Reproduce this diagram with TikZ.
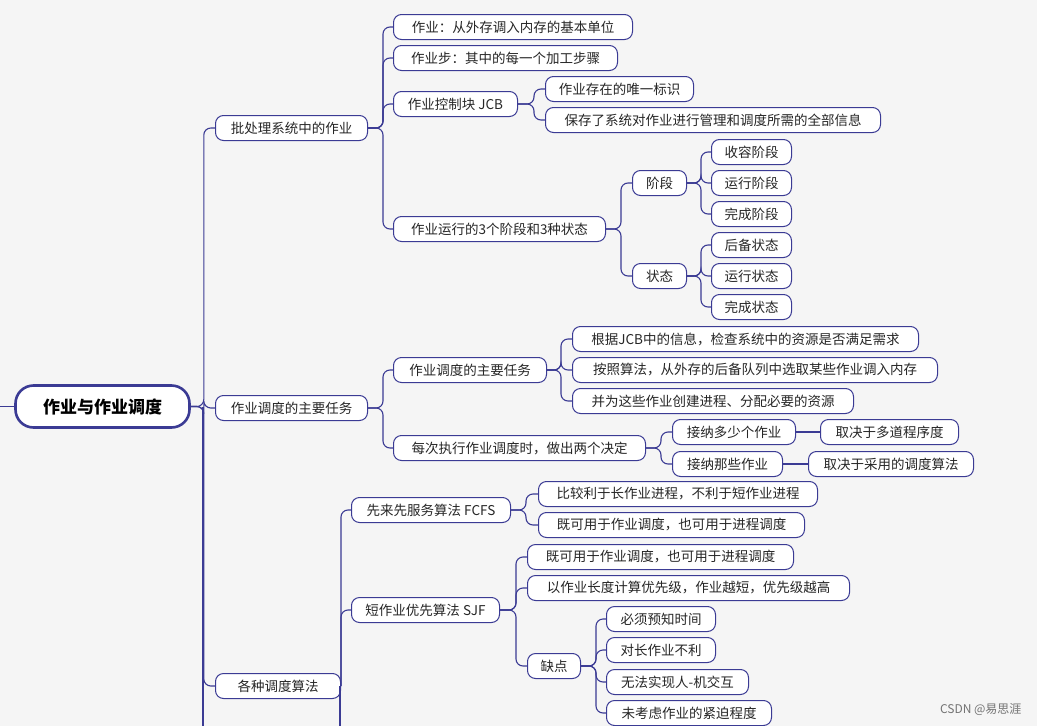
\documentclass[tikz,border=0pt]{standalone}
\usepackage{fontspec}
\setmainfont{Noto Sans CJK SC}
\begin{document}
\begin{tikzpicture}[x=1pt,y=-1pt,
  line/.style={draw=lc,line width=1.1pt,rounded corners=7pt},
  bx/.style={draw=lc,line width=1pt,fill=white,rounded corners=8pt,anchor=west,minimum height=25pt,inner sep=0pt,font=\fontsize{13.5}{14}\selectfont,text=black!85},
  ]
\definecolor{lc}{HTML}{3B3B94}
\fill[black!4] (0,0) rectangle (1037,726);
\useasboundingbox (0,0) rectangle (1037,726);
\newcommand\B[5]{\node[bx,minimum width=#4] (#1) at (#2,#3) {#5};}
\node[draw=lc,line width=2.6pt,fill=white,rounded corners=18pt,minimum width=174pt,minimum height=42pt,font=\fontsize{17}{18}\bfseries\selectfont] (root) at (102.5,406.5) {作业与作业调度};
\B{a}{215}{128}{152}{批处理系统中的作业}
\B{b}{215}{408}{152}{作业调度的主要任务}
\B{c}{215}{686}{125}{各种调度算法}
\B{a1}{393}{27}{239}{作业：从外存调入内存的基本单位}
\B{a2}{393}{58}{224}{作业步：其中的每一个加工步骤}
\B{a3}{393}{104}{124}{作业控制块 JCB}
\B{a4}{393}{229}{212}{作业运行的3个阶段和3种状态}
\B{a31}{545}{89}{148}{作业存在的唯一标识}
\B{a32}{545}{120}{335}{保存了系统对作业进行管理和调度所需的全部信息}
\B{p}{632}{183}{54}{阶段}
\B{s}{632}{276}{54}{状态}
\B{p1}{711}{152}{80}{收容阶段}
\B{p2}{711}{183}{80}{运行阶段}
\B{p3}{711}{214}{80}{完成阶段}
\B{s1}{711}{245}{80}{后备状态}
\B{s2}{711}{276}{80}{运行状态}
\B{s3}{711}{307}{80}{完成状态}
\B{b1}{393}{370}{153}{作业调度的主要任务}
\B{b2}{393}{448}{252}{每次执行作业调度时，做出两个决定}
\B{b11}{572}{339}{346}{根据JCB中的信息，检查系统中的资源是否满足需求}
\B{b12}{572}{370}{365}{按照算法，从外存的后备队列中选取某些作业调入内存}
\B{b13}{572}{401}{281}{并为这些作业创建进程、分配必要的资源}
\B{b21}{672}{432}{123}{接纳多少个作业}
\B{b22}{672}{464}{110}{接纳那些作业}
\B{b211}{820}{432}{138}{取决于多道程序度}
\B{b221}{808}{464}{165}{取决于采用的调度算法}
\B{c1}{351}{510}{159}{先来先服务算法 FCFS}
\B{c2}{351}{610}{148}{短作业优先算法 SJF}
\B{c11}{538}{494}{279}{比较利于长作业进程，不利于短作业进程}
\B{c12}{538}{525}{266}{既可用于作业调度，也可用于进程调度}
\B{c21}{527}{557}{266}{既可用于作业调度，也可用于进程调度}
\B{c22}{527}{588}{322}{以作业长度计算优先级，作业越短，优先级越高}
\B{c23}{527}{666}{53}{缺点}
\B{d1}{606}{619}{109}{必须预知时间}
\B{d2}{606}{650}{109}{对长作业不利}
\B{d3}{606}{682}{142}{无法实现人-机交互}
\B{d4}{606}{713}{165}{未考虑作业的紧迫程度}
\begin{scope}[on background layer/.style={}]
\end{scope}
\newcommand\br[3]{\foreach \ch in {#3}{\draw[line] (#1.east) -- ++(#2,0) |- (\ch.west);}}
\coordinate (L) at (0,406.5);
\draw[line] (L) -- (root.west);
\br{root}{13}{a,b,c}
\draw[line] (203,406.5) -- (203,726);
\br{a}{15}{a1,a2,a3,a4}
\br{a3}{16}{a31,a32}
\br{a4}{15}{p,s}
\br{p}{14}{p1,p2,p3}
\br{s}{14}{s1,s2,s3}
\br{b}{15}{b1,b2}
\br{b1}{14}{b11,b12,b13}
\br{b2}{15}{b21,b22}
\draw[line] (b21.east) -- (b211.west);
\draw[line] (b22.east) -- (b221.west);
\br{c}{0}{c1,c2}
\draw[line] (340,686) -- (340,726);
\br{c1}{15}{c11,c12}
\br{c2}{16}{c21,c22,c23}
\br{c23}{15}{d1,d2,d3,d4}
\node[anchor=east,font=\fontsize{12}{13}\selectfont,text=black!55] (wm) at (1025,710) {CSDN @易思涯};
\end{tikzpicture}
\end{document}
